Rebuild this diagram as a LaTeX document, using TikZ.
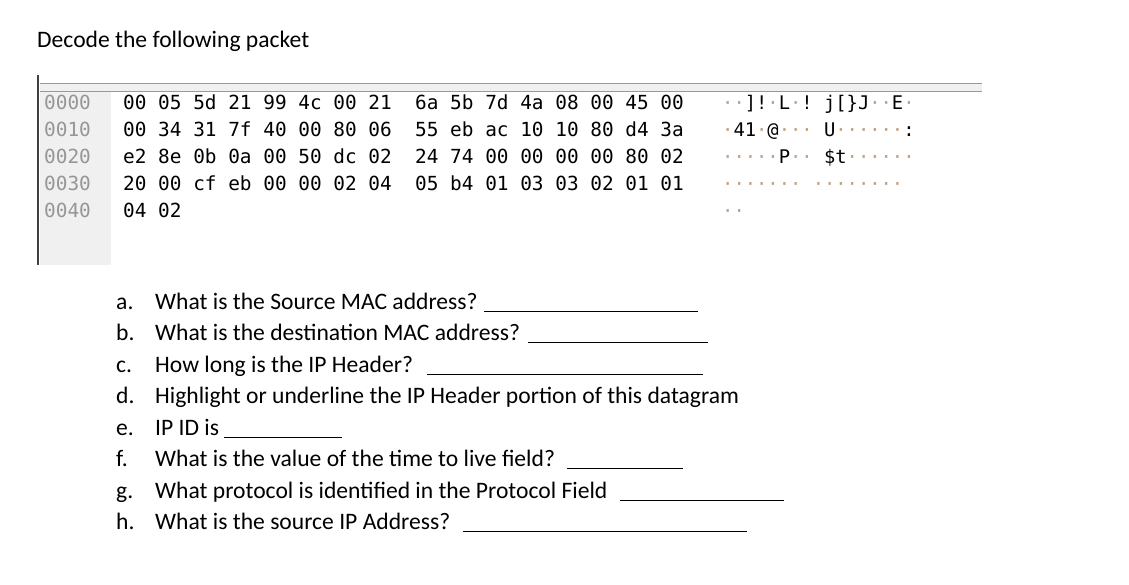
\documentclass[tikz,border=0pt]{standalone}
\usepackage{fontspec}
\setmainfont{Carlito}
\setmonofont{DejaVu Sans Mono}
\definecolor{offc}{RGB}{150,150,150}
\definecolor{dotc}{RGB}{190,160,130}
\definecolor{pan}{RGB}{240,240,240}
\newcommand{\pd}{\textcolor{dotc}{·}}
\begin{document}
\begin{tikzpicture}[x=1pt,y=-1pt,
  q/.style={anchor=base west,inner sep=0pt,font=\fontsize{23.6}{28}\selectfont},
  hx/.style={anchor=base west,inner sep=0pt,font=\ttfamily\fontsize{19.4}{22}\selectfont},
  ofs/.style={hx,text=offc},
  asc/.style={anchor=base west,inner sep=0pt,font=\ttfamily\fontsize{18.8}{22}\selectfont}]
\useasboundingbox (0,0) rectangle (1129,585);
\node[q] (title) at (37,48) {Decode the following packet};
% panel
\fill[pan] (40,92) rectangle (111,265);
\fill[pan] (40,83) rectangle (982,91);
\draw[gray!80] (40,83) -- (982,83);
\draw[gray!80] (40,91) -- (982,91);
\draw[line width=2pt,black!75] (38,75) -- (38,265);
\foreach \o/\a/\b/\c [count=\i from 0] in {
 0000/00 05 5d 21 99 4c 00 21/6a 5b 7d 4a 08 00 45 00/{\pd\pd]!\pd L\pd! j[\}J\pd\pd E\pd},
 0010/00 34 31 7f 40 00 80 06/55 eb ac 10 10 80 d4 3a/{\pd 41\pd@\pd\pd\pd{} U\pd\pd\pd\pd\pd\pd:},
 0020/e2 8e 0b 0a 00 50 dc 02/24 74 00 00 00 00 80 02/{\pd\pd\pd\pd\pd P\pd\pd{} \$t\pd\pd\pd\pd\pd\pd},
 0030/20 00 cf eb 00 00 02 04/05 b4 01 03 03 02 01 01/{ \pd\pd\pd\pd\pd\pd\pd{} \pd\pd\pd\pd\pd\pd\pd\pd},
 0040/04 02/{}/{\pd\pd}}{
  \node[ofs] (o\i) at (44,{110+27*\i}) {\o};
  \node[hx] (h\i) at (123,{110+27*\i}) {\a};
  \node[hx] (g\i) at (415,{110+27*\i}) {\b};
  \node[asc] (s\i) at (722,{110+27*\i}) {\c};
}
% questions
\foreach \l/\t/\ys/\ua/\ub [count=\i] in {
 a./What is the Source MAC address?/309/484/698,
 b./What is the destination MAC address?/340/528/708,
 c./How long is the IP Header?/372/427/703,
 d./Highlight or underline the IP Header portion of this datagram/403/0/0,
 e./IP ID is/435/224/342,
 f./What is the value of the time to live field?/466/567/683,
 g./What protocol is identified in the Protocol Field/498/620/784,
 h./What is the source IP Address?/529/463/747}{
  \node[q] (l\i) at (116,\ys) {\l};
  \node[q] (t\i) at (155,\ys) {\t};
  \ifnum\ua>0 \draw[line width=1pt] (\ua,\ys+2) coordinate (u\i) -- (\ub,\ys+2);\fi
}
\end{tikzpicture}
\end{document}
